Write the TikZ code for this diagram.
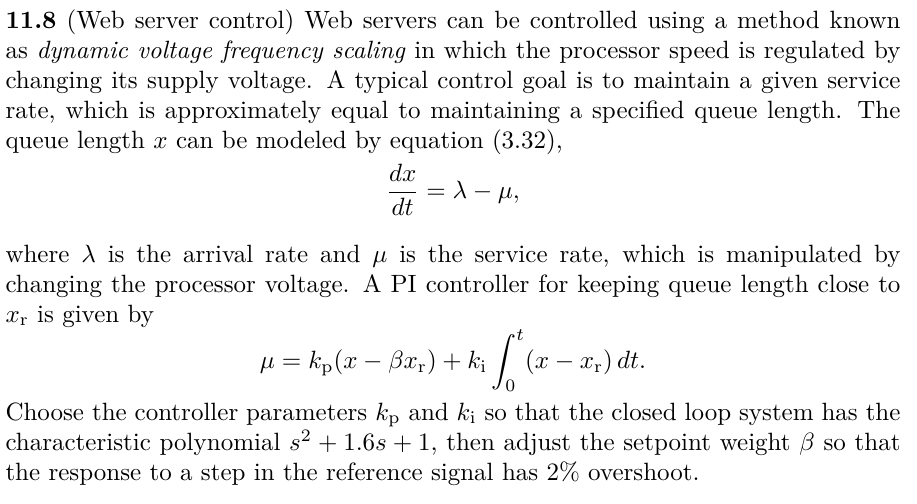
\documentclass[tikz,border=0pt]{standalone}
\usepackage{amsmath}
\begin{document}
\begin{tikzpicture}[x=1pt,y=1pt]
\useasboundingbox (0,0) rectangle (366.8,-201.2);
\node[anchor=north west,inner sep=0pt] (txt) at (2,-3.6) {\begin{minipage}{358pt}
\setlength{\parindent}{0pt}%
\setlength{\abovedisplayskip}{3pt}%
\setlength{\belowdisplayskip}{10.5pt}%
\setlength{\abovedisplayshortskip}{0pt}%
\setlength{\belowdisplayshortskip}{3.6pt}%
\textbf{11.8} (Web server control) Web servers can be controlled using a method known\linebreak
as \emph{dynamic voltage frequency scaling} in which the processor speed is regulated by\linebreak
changing its supply voltage. A typical control goal is to maintain a given service\linebreak
rate, which is approximately equal to maintaining a specified queue length. The\linebreak
queue length $x$ can be modeled by equation (3.32),
\[
\frac{dx}{dt} = \lambda - \mu,
\]
where $\lambda$ is the arrival rate and $\mu$ is the service rate, which is manipulated by\linebreak
changing the processor voltage. A PI controller for keeping queue length close to\linebreak
$x_{\mathrm r}$ is given by
\[
\mu = k_{\mathrm p}(x-\beta x_{\mathrm r}) + k_{\mathrm i}\int_0^t (x-x_{\mathrm r})\,dt.
\]
Choose the controller parameters $k_{\mathrm p}$ and $k_{\mathrm i}$ so that the closed loop system has the\linebreak
characteristic polynomial $s^2+1.6s+1$, then adjust the setpoint weight $\beta$ so that\linebreak
the response to a step in the reference signal has 2\% overshoot.
\end{minipage}};
\end{tikzpicture}
\end{document}
